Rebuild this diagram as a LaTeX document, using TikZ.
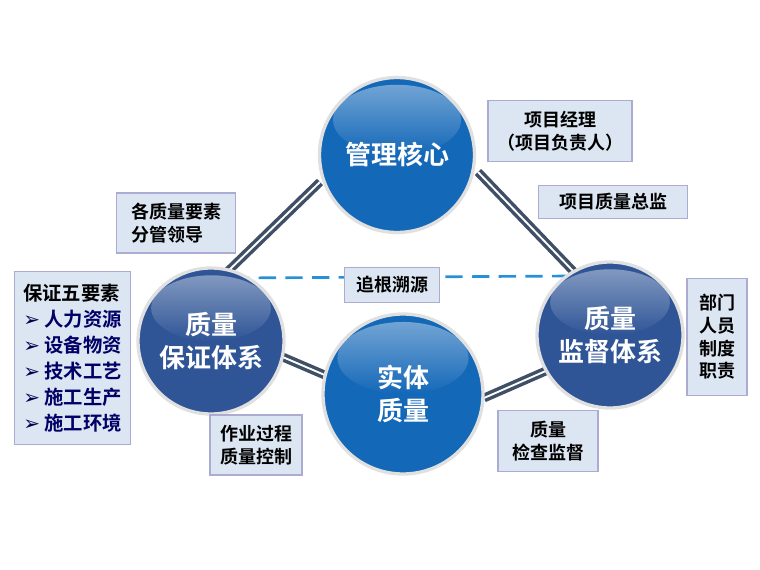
\documentclass[tikz,border=0pt]{standalone}
\usepackage{fontspec}
\newfontfamily\cjk{Noto Sans CJK SC Bold}
\usetikzlibrary{fadings}
\begin{document}
\begin{tikzpicture}[x=0.75pt,y=-0.75pt,
 circ/.style={circle,minimum size=#1*0.75pt,draw=black!12,line width=2.5pt,inner sep=0pt},
 ctext/.style={text=white,font=\cjk\fontsize{19.5}{25}\selectfont,align=center},
 lbl/.style={draw=blue!30!gray!50,fill=lb,line width=0.8pt,font=\cjk\fontsize{13.5}{17}\selectfont,align=center,inner sep=3pt},
 conn/.style={double=white,double distance=1.4pt,draw=cl,line width=2.6pt}]
\definecolor{cb}{HTML}{1468B8}\definecolor{cn}{HTML}{2F5597}
\definecolor{lb}{HTML}{DCE6F2}\definecolor{cl}{HTML}{3F4F66}
\useasboundingbox (0,0) rectangle (760,570);
% connectors
\coordinate (d1) at (232,278); \coordinate (d2) at (572,276);
\draw[dash pattern=on 13pt off 7pt,line width=2pt,draw=blue!40!cyan!70!gray] (d1) -- (d2);
\coordinate (a1) at (224,275); \coordinate (a2) at (320,182);
\coordinate (b1) at (478,172); \coordinate (b2) at (574,272);
\coordinate (c1) at (278,355); \coordinate (c2) at (327,376);
\coordinate (e1) at (484,398); \coordinate (e2) at (548,370);
\draw[conn] (a1)--(a2); \draw[conn] (b1)--(b2); \draw[conn] (c1)--(c2); \draw[conn] (e1)--(e2);
% circles
\node[circ=155,fill=cb] (top) at (397,155) {};
\node[circ=160,fill=cb] (bot) at (403,394) {};
\node[circ=146,fill=cn] (lef) at (211,341) {};
\node[circ=146,fill=cn] (rig) at (610,335) {};
\foreach \n/\r in {top/78,bot/80,lef/73,rig/73}{
 \fill[white,opacity=0.4,path fading=south] ([yshift=0.75*0.45*\r pt]\n.center) ellipse ({0.75*0.82*\r pt} and {0.75*0.45*\r pt});
}
\node at (top) [ctext] {管理核心};
\node at (bot) [ctext] {实体\\质量};
\node at (lef) [ctext] {质量\\保证体系};
\node at (rig) [ctext] {质量\\监督体系};
% labels
\node[lbl,minimum width=108pt,minimum height=46pt] (l1) at (560,131) {项目经理\\（项目负责人）};
\node[lbl,minimum width=112pt,minimum height=25pt] (l2) at (613,202) {项目质量总监};
\node[lbl,minimum width=89pt,minimum height=45pt,align=left] (l3) at (176,223) {各质量要素\\分管领导};
\node[lbl,minimum width=71pt,minimum height=26pt] (l4) at (392,285) {追根溯源};
\node[lbl,minimum width=69pt,minimum height=45pt] (l5) at (256,445) {作业过程\\质量控制};
\node[lbl,minimum width=75pt,minimum height=46pt] (l6) at (548,441) {质量\\检查监督};
\node[lbl,minimum width=45pt,minimum height=88pt] (l7) at (717,337) {部门\\人员\\制度\\职责};
\newcommand\bl{{\color{blue!30!black}\fontspec{DejaVu Sans}\fontsize{15}{17}\selectfont\char"27A2}\ }
\node[lbl,minimum width=87pt,minimum height=130pt,align=left,anchor=north west,inner sep=2pt,font=\cjk\fontsize{14.5}{19.5}\selectfont] (l8) at (14,271)
 {保证五要素\\
 \bl{\color{blue!40!black}人力资源}\\
 \bl{\color{blue!40!black}设备物资}\\
 \bl{\color{blue!40!black}技术工艺}\\
 \bl{\color{blue!40!black}施工生产}\\
 \bl{\color{blue!40!black}施工环境}};
\end{tikzpicture}
\end{document}
